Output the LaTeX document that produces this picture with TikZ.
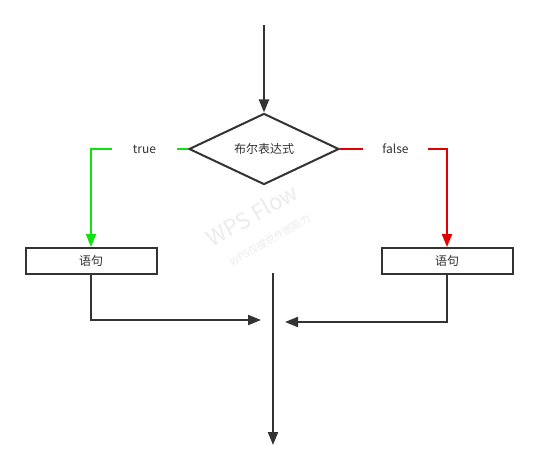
\documentclass[tikz,border=0pt]{standalone}
\usepackage{fontspec}
\setmainfont{Noto Sans CJK SC}
\usetikzlibrary{shapes.geometric,arrows.meta}
\definecolor{ln}{HTML}{333333}
\definecolor{gr}{HTML}{11E011}
\definecolor{rd}{HTML}{E00000}
\definecolor{wm}{HTML}{ECECEC}
\tikzset{
  conn/.style={line width=2pt, draw=ln, -{Triangle[length=13pt,width=10pt]}},
  plain/.style={line width=2pt},
  stmt/.style={draw=ln, line width=2pt, minimum width=131pt, minimum height=26pt, inner sep=0pt, font=\fontsize{12}{14}\selectfont, text=ln},
  cond/.style={diamond, draw=ln, line width=2pt, minimum width=150pt, minimum height=61pt, inner sep=0pt, font=\fontsize{12}{14}\selectfont, text=ln},
  lbl/.style={minimum width=65pt, inner sep=0pt, font=\fontsize{12}{14}\selectfont, text=ln},
  wmark/.style={text=wm, rotate=30, inner sep=0pt}
}
\begin{document}
\begin{tikzpicture}[x=1pt,y=-1pt]
\useasboundingbox[fill=white] (0,0) rectangle (540,465);
% watermark
\node[wmark, font=\fontsize{22}{24}\selectfont] (wm1) at (252,215) {WPS Flow};
\node[wmark, font=\fontsize{10}{12}\selectfont] (wm2) at (270,240) {WPS仅提供作图能力};
% nodes
\coordinate (start) at (264,25);
\node[cond] (d) at (264,149) {布尔表达式};
\node[lbl] (t) at (144.5,149) {true};
\node[lbl] (f) at (395.5,149) {false};
\node[stmt] (l) at (91,261) {语句};
\node[stmt] (r) at (447,261) {语句};
\coordinate (m1) at (273,273);
\coordinate (m2) at (273,445);
\coordinate (ml) at (261,320);
\coordinate (mr) at (285,322);
% connectors
\draw[conn] (start) -- (d.north);
\draw[plain, draw=gr] (d.west) -- (t.east);
\draw[conn, draw=gr, -{Triangle[length=13pt,width=10pt,fill=gr]}] (t.west) -| (l.north);
\draw[plain, draw=rd] (d.east) -- (f.west);
\draw[conn, draw=rd, -{Triangle[length=13pt,width=10pt,fill=rd]}] (f.east) -| (r.north);
\draw[conn] (m1) -- (m2);
\draw[conn] (l.south) |- (ml);
\draw[conn] (r.south) |- (mr);
\end{tikzpicture}
\end{document}
